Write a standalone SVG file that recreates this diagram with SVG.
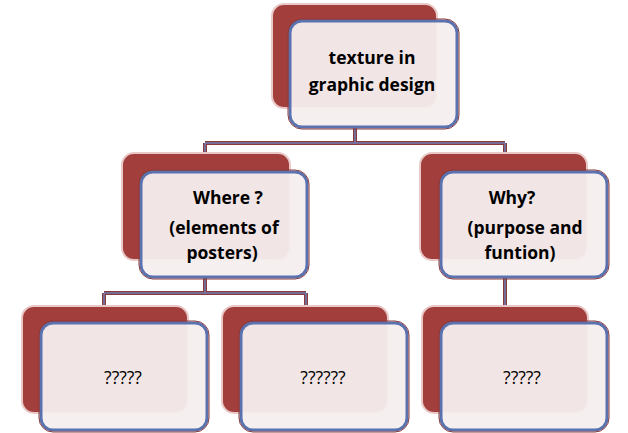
<svg xmlns="http://www.w3.org/2000/svg" width="628" height="433" viewBox="0 0 628 433">
<style>
.b{fill:#a23f3c;stroke:#e8c9c8;stroke-width:2}
.f{fill:#f6eeee;fill-opacity:0.95;stroke:#5a73b0;stroke-width:3}
.fo{fill:none;stroke:#8b3a3a;stroke-width:1}
.c{fill:none;stroke:#8b3a3a;stroke-width:4}
.ci{fill:none;stroke:#6f7fb8;stroke-width:1.5}
.t{font-family:"Open Sans","Liberation Sans",sans-serif;font-size:17.5px;fill:#000;text-anchor:middle}
.tb{font-weight:bold}
</style>
<g id="connectors">
<path class="c" d="M355 127V143M205 143H505M205 143V172M505 143V172M205 277V293M104 293H306M104 293V323M306 293V323M505 277V323"/>
<path class="ci" d="M355 127V143M205 143H505M205 143V172M505 143V172M205 277V293M104 293H306M104 293V323M306 293V323M505 277V323"/>
</g>
<g id="n1"><rect class="b" x="272" y="4" width="165" height="104" rx="12"/><rect class="f" x="290" y="21" width="167" height="106" rx="12"/><rect class="fo" x="288" y="19" width="171" height="110" rx="14"/>
<text class="t tb" x="372" y="64">texture in</text><text class="t tb" x="372" y="91">graphic  design</text></g>
<g id="n2"><rect class="b" x="122" y="153" width="168" height="107" rx="12"/><rect class="f" x="141" y="172" width="166" height="105" rx="12"/><rect class="fo" x="139" y="170" width="170" height="109" rx="14"/>
<text class="t tb" x="228" y="204">Where ?</text><text class="t tb" x="224" y="234">(elements of</text><text class="t tb" x="222" y="259">posters)</text></g>
<g id="n3"><rect class="b" x="420" y="153" width="167" height="107" rx="12"/><rect class="f" x="441" y="172" width="166" height="105" rx="12"/><rect class="fo" x="439" y="170" width="170" height="109" rx="14"/>
<text class="t tb" x="512" y="204">Why?</text><text class="t tb" x="525" y="234">(purpose  and</text><text class="t tb" x="520" y="259">funtion)</text></g>
<g id="n4"><rect class="b" x="22" y="306" width="166" height="107" rx="12"/><rect class="f" x="41" y="323" width="166" height="107" rx="12"/><rect class="fo" x="39" y="321" width="170" height="111" rx="14"/>
<text class="t" x="123" y="384">?????</text></g>
<g id="n5"><rect class="b" x="222" y="306" width="166" height="107" rx="12"/><rect class="f" x="241" y="323" width="166" height="107" rx="12"/><rect class="fo" x="239" y="321" width="170" height="111" rx="14"/>
<text class="t" x="323" y="384">??????</text></g>
<g id="n6"><rect class="b" x="422" y="306" width="166" height="107" rx="12"/><rect class="f" x="441" y="323" width="166" height="107" rx="12"/><rect class="fo" x="439" y="321" width="170" height="111" rx="14"/>
<text class="t" x="522" y="384">?????</text></g>
</svg>
